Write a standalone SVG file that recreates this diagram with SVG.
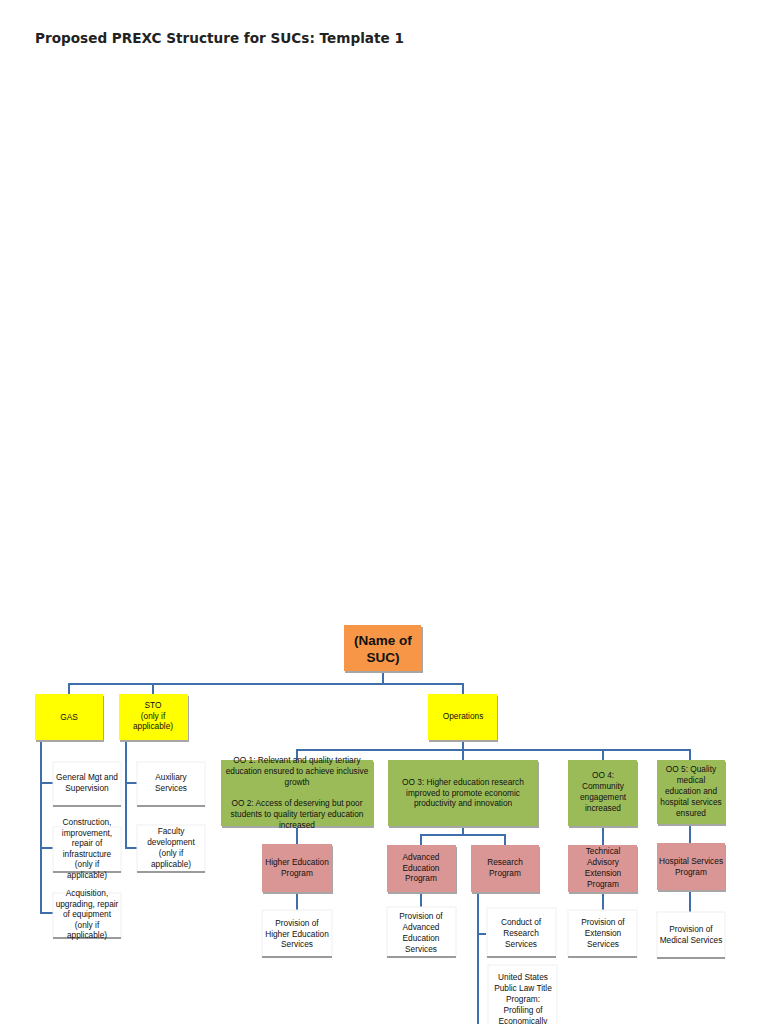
<svg xmlns="http://www.w3.org/2000/svg" width="768" height="1024" viewBox="0 0 768 1024">
<style>
.t{font-family:"Liberation Sans",Arial,sans-serif;font-size:8.3px;fill:#111;text-anchor:middle}
.sh{fill:#a6a6a6}
.y{fill:#ffff00}
.g{fill:#9bbb59}
.p{fill:#d99694}
.o{fill:#f79646}
.w{fill:#fff;stroke:#f0f0f0;stroke-width:1}
.bl{stroke:#9a9a9a;stroke-width:2}
.c{fill:none;stroke:#3f6fab;stroke-width:2}
</style>
<rect width="768" height="1024" fill="#fff"/>
<text x="35" y="43" font-family="DejaVu Sans,sans-serif" font-weight="bold" font-size="13.6" fill="#222">Proposed PREXC Structure for SUCs: Template 1</text>

<g id="connectors">
<path class="c" d="M383 671V684M69 694V684H463V694M153 684V694"/>
<path class="c" d="M41 740V913H53M41 783H53M41 848H53"/>
<path class="c" d="M126 740V848H137M126 783H137"/>
<path class="c" d="M463 740V750M297 760V750H690V760M463 750V760M603 750V760"/>
<path class="c" d="M297 826V844M297 892V910"/>
<path class="c" d="M463 826V835M421 845V835H505V845M421 892V910"/>
<path class="c" d="M478 892V1024M478 934H486"/>
<path class="c" d="M603 826V845M603 892V910"/>
<path class="c" d="M690 824V843M690 890V912"/>
</g>

<g id="suc"><rect class="sh" x="345" y="627" width="78" height="46"/><rect class="o" x="344" y="625" width="77" height="46"/>
<text x="383" y="645" font-family="Liberation Sans,Arial,sans-serif" font-weight="bold" font-size="13.5" text-anchor="middle" fill="#111">(Name of</text>
<text x="383" y="662" font-family="Liberation Sans,Arial,sans-serif" font-weight="bold" font-size="13.5" text-anchor="middle" fill="#111">SUC)</text></g>

<g id="gas"><rect class="sh" x="36" y="696" width="68" height="46"/><rect class="y" x="35" y="694" width="68" height="46"/><text class="t" x="69" y="720">GAS</text></g>
<g id="sto"><rect class="sh" x="120" y="696" width="69" height="46"/><rect class="y" x="119" y="694" width="69" height="46"/><text class="t" x="153" y="708">STO</text><text class="t" x="153" y="718.5">(only if</text><text class="t" x="153" y="729">applicable)</text></g>
<g id="operations"><rect class="sh" x="429" y="696" width="69" height="46"/><rect class="y" x="428" y="694" width="69" height="46"/><text class="t" x="463" y="719">Operations</text></g>

<g id="genmgt"><rect class="w" x="53" y="762" width="68" height="44"/><line class="bl" x1="53" y1="806" x2="121" y2="806"/><text class="t" x="87" y="780">General Mgt and</text><text class="t" x="87" y="791">Supervision</text></g>
<g id="construction"><rect class="w" x="53" y="827" width="68" height="45"/><line class="bl" x1="53" y1="872" x2="121" y2="872"/>
<text class="t" x="87" y="825">Construction,</text><text class="t" x="87" y="835.5">improvement,</text><text class="t" x="87" y="846">repair of</text><text class="t" x="87" y="856.5">infrastructure</text><text class="t" x="87" y="867">(only if</text><text class="t" x="87" y="877.5">applicable)</text></g>
<g id="acquisition"><rect class="w" x="53" y="893" width="68" height="45"/><line class="bl" x1="53" y1="938" x2="121" y2="938"/>
<text class="t" x="87" y="896">Acquisition,</text><text class="t" x="87" y="906.5">upgrading, repair</text><text class="t" x="87" y="917">of equipment</text><text class="t" x="87" y="927.5">(only if</text><text class="t" x="87" y="938">applicable)</text></g>
<g id="auxiliary"><rect class="w" x="137" y="762" width="68" height="44"/><line class="bl" x1="137" y1="806" x2="205" y2="806"/><text class="t" x="171" y="780">Auxiliary</text><text class="t" x="171" y="791">Services</text></g>
<g id="faculty"><rect class="w" x="137" y="825" width="68" height="47"/><line class="bl" x1="137" y1="872" x2="205" y2="872"/>
<text class="t" x="171" y="834">Faculty</text><text class="t" x="171" y="845">development</text><text class="t" x="171" y="856">(only if</text><text class="t" x="171" y="867">applicable)</text></g>

<g id="oo12"><rect class="sh" x="222" y="762" width="152" height="66"/><rect class="g" x="221" y="760" width="152" height="66"/>
<text class="t" x="297" y="763">OO 1: Relevant and quality tertiary</text><text class="t" x="297" y="774">education ensured to achieve inclusive</text><text class="t" x="297" y="785">growth</text>
<text class="t" x="297" y="806">OO 2: Access of deserving but poor</text><text class="t" x="297" y="817">students to quality tertiary education</text><text class="t" x="297" y="828">increased</text></g>
<g id="oo3"><rect class="sh" x="389" y="762" width="150" height="66"/><rect class="g" x="388" y="760" width="150" height="66"/>
<text class="t" x="463" y="785">OO 3: Higher education research</text><text class="t" x="463" y="795.5">improved to promote economic</text><text class="t" x="463" y="806">productivity and innovation</text></g>
<g id="oo4"><rect class="sh" x="569" y="762" width="69" height="66"/><rect class="g" x="568" y="760" width="69" height="66"/>
<text class="t" x="603" y="778">OO 4:</text><text class="t" x="603" y="789">Community</text><text class="t" x="603" y="800">engagement</text><text class="t" x="603" y="811">increased</text></g>
<g id="oo5"><rect class="sh" x="658" y="762" width="68" height="64"/><rect class="g" x="657" y="760" width="68" height="64"/>
<text class="t" x="691" y="772">OO 5: Quality</text><text class="t" x="691" y="783">medical</text><text class="t" x="691" y="794">education and</text><text class="t" x="691" y="805">hospital services</text><text class="t" x="691" y="816">ensured</text></g>

<g id="hep"><rect class="sh" x="263" y="846" width="70" height="48"/><rect class="p" x="262" y="844" width="70" height="48"/><text class="t" x="297" y="865">Higher Education</text><text class="t" x="297" y="876">Program</text></g>
<g id="aep"><rect class="sh" x="388" y="847" width="69" height="47"/><rect class="p" x="387" y="845" width="69" height="47"/><text class="t" x="421" y="860">Advanced</text><text class="t" x="421" y="870.5">Education</text><text class="t" x="421" y="881">Program</text></g>
<g id="rp"><rect class="sh" x="472" y="847" width="68" height="47"/><rect class="p" x="471" y="845" width="68" height="47"/><text class="t" x="505" y="865">Research</text><text class="t" x="505" y="876">Program</text></g>
<g id="taep"><rect class="sh" x="569" y="847" width="69" height="47"/><rect class="p" x="568" y="845" width="69" height="47"/><text class="t" x="603" y="854">Technical</text><text class="t" x="603" y="865">Advisory</text><text class="t" x="603" y="876">Extension</text><text class="t" x="603" y="887">Program</text></g>
<g id="hsp"><rect class="sh" x="658" y="845" width="68" height="47"/><rect class="p" x="657" y="843" width="68" height="47"/><text class="t" x="691" y="864">Hospital Services</text><text class="t" x="691" y="875">Program</text></g>

<g id="prov-he"><rect class="w" x="262" y="910" width="70" height="47"/><line class="bl" x1="262" y1="957" x2="332" y2="957"/><text class="t" x="297" y="926">Provision of</text><text class="t" x="297" y="936.5">Higher Education</text><text class="t" x="297" y="947">Services</text></g>
<g id="prov-ae"><rect class="w" x="387" y="907" width="69" height="50"/><line class="bl" x1="387" y1="957" x2="456" y2="957"/><text class="t" x="421" y="919">Provision of</text><text class="t" x="421" y="930">Advanced</text><text class="t" x="421" y="941">Education</text><text class="t" x="421" y="952">Services</text></g>
<g id="conduct"><rect class="w" x="487" y="908" width="69" height="49"/><line class="bl" x1="487" y1="957" x2="556" y2="957"/><text class="t" x="521" y="925">Conduct of</text><text class="t" x="521" y="936">Research</text><text class="t" x="521" y="947">Services</text></g>
<g id="usplt"><rect class="w" x="488" y="965" width="69" height="70"/><text class="t" x="523" y="980">United States</text><text class="t" x="523" y="991">Public Law Title</text><text class="t" x="523" y="1002">Program:</text><text class="t" x="523" y="1013">Profiling of</text><text class="t" x="523" y="1024">Economically</text></g>
<g id="prov-ext"><rect class="w" x="568" y="910" width="69" height="47"/><line class="bl" x1="568" y1="957" x2="637" y2="957"/><text class="t" x="603" y="925">Provision of</text><text class="t" x="603" y="936">Extension</text><text class="t" x="603" y="947">Services</text></g>
<g id="prov-med"><rect class="w" x="657" y="912" width="68" height="46"/><line class="bl" x1="657" y1="958" x2="725" y2="958"/><text class="t" x="691" y="932">Provision of</text><text class="t" x="691" y="943">Medical Services</text></g>
</svg>
